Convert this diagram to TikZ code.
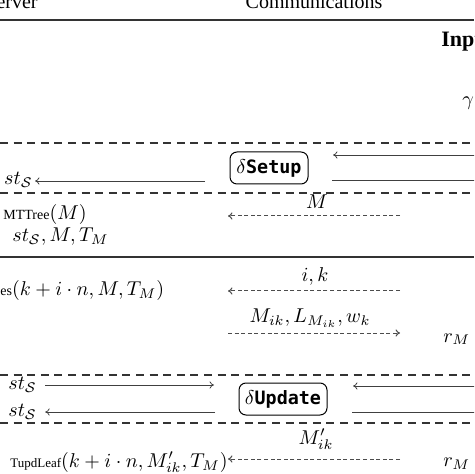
\documentclass[tikz,border=0pt]{standalone}
\usepackage{amsmath}
\usepackage{fontspec}
\setmainfont{Liberation Serif}
\newfontfamily\codefont{DejaVu Sans Mono}
\usetikzlibrary{arrows.meta}
\begin{document}
\begin{tikzpicture}[x=0.5pt,y=-0.5pt,
  font=\fontsize{10}{12}\selectfont,
  sep/.style={draw=black!80, line width=1pt},
  dsep/.style={draw=black!80, line width=0.7pt, dash pattern=on 4pt off 2.8pt},
  msg/.style={draw=black!75, line width=0.4pt, -{To[length=2.2pt,width=3.6pt]}},
  dmsg/.style={draw=black!70, line width=0.5pt, dash pattern=on 2pt off 1.3pt, -{To[length=2.2pt,width=3.6pt]}},
  proc/.style={draw, rounded corners=3.5pt, line width=0.5pt, minimum height=16pt, inner sep=2pt},
  lbl/.style={inner sep=0pt},
]
\useasboundingbox (0,0) rectangle (474,474);
\clip (0,0) rectangle (474,474);

% header
\node[lbl, anchor=base east] (server) at (38,9) {Server};
\node[lbl, anchor=base] (comm) at (314,9) {Communications};
\node[lbl, anchor=base west, font=\fontsize{11}{13}\selectfont\bfseries] (input) at (441,47) {Input};
\draw[sep] (0,20) -- (474,20);

\node[lbl, anchor=base west] (gamma) at (462,106) {$\gamma$};

% setup block
\draw[dsep] (0,143) -- (474,143);
\draw[dsep] (0,193) -- (474,193);
\node[proc, minimum width=39pt] (setup) at (269,168) {$\delta$\codefont\fontsize{9.2}{11}\selectfont\bfseries Setup};
\node[lbl, anchor=base east] (st1) at (33,185) {$st_{\mathcal S}$};
\coordinate (s1) at (205,181);
\draw[msg, shorten >=1pt] (s1) -- (s1 -| st1.east);
\coordinate (uA) at (480,155);
\coordinate (sA) at (333,155);
\draw[msg] (uA) -- (sA);
\coordinate (sB) at (332,180);
\coordinate (uB) at (480,180);
\draw[msg] (sB) -- (uB);

\node[lbl, anchor=base west] (mtt) at (3,220) {{\fontsize{7}{8}\selectfont MTTree}$(M)$};
\node[lbl, anchor=base] (lM) at (317,209) {$M$};
\coordinate (m1r) at (400,216);
\coordinate (m1l) at (228,216);
\draw[dmsg] (m1r) -- (m1l);
\node[lbl, anchor=base west] (st2) at (12,242) {$st_{\mathcal S}, M, T_M$};

\draw[sep] (0,257) -- (474,257);

% proof
\node[lbl, anchor=base] (lik) at (315,282) {$i, k$};
\coordinate (m2r) at (400,291);
\coordinate (m2l) at (228,291);
\draw[dmsg] (m2r) -- (m2l);
\node[lbl, anchor=base west] (gpn) at (0,296) {{\fontsize{7}{8}\selectfont es}$(k+i\cdot n, M, T_M)$};
\node[lbl, anchor=base] (lmik) at (310,322) {$M_{ik}, L_{M_{ik}}, w_k$};
\coordinate (m3l) at (228,333);
\coordinate (m3r) at (400,333);
\draw[dmsg] (m3l) -- (m3r);
\node[lbl, anchor=base west] (rM1) at (443,342) {$r_M$};

% update block
\draw[dsep] (0,375) -- (474,375);
\draw[dsep] (0,423) -- (474,423);
\node[proc, minimum width=44pt] (update) at (283,399) {$\delta$\codefont\fontsize{9.2}{11}\selectfont\bfseries Update};
\node[lbl, anchor=base west] (st3) at (8,389) {$st_{\mathcal S}$};
\node[lbl, anchor=base west] (st4) at (8,416) {$st_{\mathcal S}$};
\coordinate (u1) at (214,385);
\coordinate (u2) at (215,412);
\draw[msg, shorten <=4pt] (u1 -| st3.east) -- (u1);
\draw[msg, shorten >=4pt] (u2) -- (u2 -| st4.east);
\coordinate (uC) at (480,386);
\coordinate (sC) at (353,386);
\draw[msg] (uC) -- (sC);
\coordinate (sD) at (352,412);
\coordinate (uD) at (480,412);
\draw[msg] (sD) -- (uD);

\node[lbl, anchor=base] (lMp) at (316,444) {$M'_{ik}$};
\coordinate (m4r) at (400,459);
\coordinate (m4l) at (228,459);
\draw[dmsg] (m4r) -- (m4l);
\node[lbl, anchor=base west] (tul) at (10,467) {{\fontsize{6.5}{8}\selectfont TupdLeaf}$(k+i\cdot n, M'_{ik}, T_M)$};
\node[lbl, anchor=base west] (rM2) at (443,466) {$r_M$};
\end{tikzpicture}
\end{document}
